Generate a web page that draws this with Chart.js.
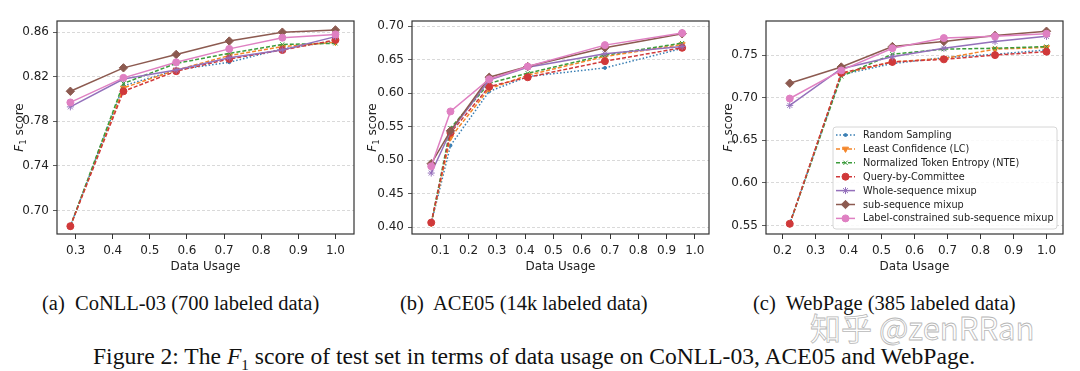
<!DOCTYPE html>
<html>
<head>
<meta charset="utf-8">
<script src="https://cdn.jsdelivr.net/npm/chart.js@4.4.1/dist/chart.umd.min.js"></script>
<style>
  html, body { margin: 0; padding: 0; background: #fff; }
  #fig { position: relative; width: 1080px; height: 371px; overflow: hidden; }
  canvas { position: absolute; top: 0; }
  .sub, .cap { position: absolute; font-family: "Liberation Serif", "DejaVu Serif", serif; color: #111; white-space: nowrap; }
  .sub { top: 291px; font-size: 20.5px; line-height: 24px; }
  .cap { top: 343px; left: 93px; font-size: 23.6px; line-height: 26px; }
  .wm { position: absolute; left: 810px; top: 309px; font-family: "Noto Sans CJK SC", sans-serif; font-size: 31px; line-height: 36px;
        color: rgba(255,255,255,0.6); -webkit-text-stroke: 0.8px #b8b8b8; white-space: nowrap; }
</style>
</head>
<body>
<div id="fig">
  <canvas id="c1" width="360" height="280" style="left:0px"></canvas>
  <canvas id="c2" width="360" height="280" style="left:360px"></canvas>
  <canvas id="c3" width="360" height="280" style="left:720px"></canvas>
  <div class="sub" style="left:42px">(a)&nbsp; CoNLL-03 (700 labeled data)</div>
  <div class="sub" style="left:400px">(b)&nbsp; ACE05 (14k labeled data)</div>
  <div class="sub" style="left:753px">(c)&nbsp; WebPage (385 labeled data)</div>
  <div class="wm">知乎 @zenRRan</div>
  <div class="cap">Figure 2: The <i>F</i><sub style="font-size:15px">1</sub> score of test set in terms of data usage on CoNLL-03, ACE05 and WebPage.</div>
</div>
<script>
// method names, same order in every panel
const methods = ['Random Sampling', 'Least Confidence (LC)', 'Normalized Token Entropy (NTE)',
  'Query-by-Committee', 'Whole-sequence mixup', 'sub-sequence mixup', 'Label-constrained sub-sequence mixup'];

// (a) CoNLL-03
const conllX = [0.286, 0.429, 0.571, 0.714, 0.857, 1.0];
const conllRandom = [0.686, 0.812, 0.826, 0.833, 0.845, 0.852];
const conllLC     = [0.686, 0.810, 0.826, 0.839, 0.847, 0.851];
const conllNTE    = [0.686, 0.814, 0.832, 0.841, 0.849, 0.850];
const conllQBC    = [0.686, 0.807, 0.825, 0.836, 0.844, 0.853];
const conllWhole  = [0.793, 0.818, 0.826, 0.837, 0.844, 0.856];
const conllSub    = [0.807, 0.828, 0.840, 0.852, 0.860, 0.862];
const conllLabel  = [0.797, 0.819, 0.833, 0.845, 0.855, 0.858];
const conllXTicks = [0.3, 0.4, 0.5, 0.6, 0.7, 0.8, 0.9, 1.0];
const conllYTicks = [0.70, 0.74, 0.78, 0.82, 0.86];

// (b) ACE05
const aceX = [0.068, 0.136, 0.273, 0.409, 0.682, 0.955];
const aceRandom = [0.406, 0.522, 0.603, 0.625, 0.638, 0.667];
const aceLC     = [0.406, 0.534, 0.607, 0.627, 0.655, 0.673];
const aceNTE    = [0.406, 0.548, 0.615, 0.630, 0.657, 0.675];
const aceQBC    = [0.407, 0.541, 0.610, 0.624, 0.648, 0.668];
const aceWhole  = [0.481, 0.543, 0.620, 0.639, 0.659, 0.670];
const aceSub    = [0.495, 0.544, 0.624, 0.640, 0.668, 0.689];
const aceLabel  = [0.491, 0.573, 0.621, 0.640, 0.672, 0.690];
const aceXTicks = [0.1, 0.2, 0.3, 0.4, 0.5, 0.6, 0.7, 0.8, 0.9, 1.0];
const aceYTicks = [0.40, 0.45, 0.50, 0.55, 0.60, 0.65, 0.70];

// (c) WebPage
const webX = [0.222, 0.378, 0.533, 0.689, 0.844, 1.0];
const webRandom = [0.552, 0.727, 0.740, 0.747, 0.751, 0.756];
const webLC     = [0.552, 0.728, 0.742, 0.746, 0.757, 0.759];
const webNTE    = [0.552, 0.725, 0.751, 0.757, 0.758, 0.760];
const webQBC    = [0.552, 0.729, 0.742, 0.745, 0.750, 0.754];
const webWhole  = [0.691, 0.734, 0.748, 0.758, 0.766, 0.772];
const webSub    = [0.717, 0.736, 0.760, 0.766, 0.773, 0.778];
const webLabel  = [0.699, 0.732, 0.758, 0.770, 0.772, 0.775];
const webXTicks = [0.2, 0.3, 0.4, 0.5, 0.6, 0.7, 0.8, 0.9, 1.0];
const webYTicks = [0.55, 0.60, 0.65, 0.70, 0.75];

// matplotlib-ish look for each method
const styles = [
  { color: '#3a7fb4', dash: [1.5, 2], point: 'circle', r: 1.5, rot: 0 },
  { color: '#f4862a', dash: [4, 2], point: 'triangle', r: 3.5, rot: 180 },
  { color: '#3c9c3c', dash: [4, 2], point: 'crossRot', r: 3, rot: 0 },
  { color: '#d0393a', dash: [4, 2], point: 'circle', r: 3.5, rot: 0 },
  { color: '#9470bb', dash: [], point: 'star', r: 3.5, rot: 0 },
  { color: '#8c5a50', dash: [], point: 'rectRot', r: 4.2, rot: 0 },
  { color: '#df80c2', dash: [], point: 'circle', r: 3.5, rot: 0 }
];

Chart.defaults.font.family = 'DejaVu Sans';
Chart.defaults.font.size = 12;
Chart.defaults.color = '#222';

// box around the plot + "F1 score" with subscript
const framePlugin = {
  id: 'frame',
  afterDraw(chart, args, opts) {
    const { ctx, chartArea: a } = chart;
    ctx.save();
    ctx.strokeStyle = '#333';
    ctx.lineWidth = 1.2;
    ctx.strokeRect(a.left, a.top, a.right - a.left, a.bottom - a.top);

    ctx.translate(opts.titleX, (a.top + a.bottom) / 2);
    ctx.rotate(-Math.PI / 2);
    ctx.fillStyle = '#222';
    ctx.textBaseline = 'middle';
    const fF = 'italic 12px DejaVu Sans', f1 = '8.5px DejaVu Sans', fS = '12px DejaVu Sans';
    ctx.font = fF; const wF = ctx.measureText('F').width;
    ctx.font = f1; const w1 = ctx.measureText('1').width;
    ctx.font = fS; const wS = ctx.measureText(' score').width;
    let x = -(wF + w1 + wS) / 2;
    ctx.font = fF; ctx.fillText('F', x, 0); x += wF;
    ctx.font = f1; ctx.fillText('1', x, 3.5); x += w1;
    ctx.font = fS; ctx.fillText(' score', x, 0);
    ctx.restore();
  }
};

// legend drawn inside the plot (panel c)
const innerLegend = {
  id: 'innerLegend',
  afterDraw(chart, args, opts) {
    if (!opts.show) return;
    const ctx = chart.ctx;
    const b = opts.box;
    ctx.save();
    ctx.beginPath();
    ctx.roundRect(b.x, b.y, b.w, b.h, 3);
    ctx.fillStyle = 'rgba(255,255,255,0.85)';
    ctx.fill();
    ctx.strokeStyle = '#d6d6d6';
    ctx.lineWidth = 1;
    ctx.stroke();
    chart.data.datasets.forEach((ds, i) => {
      const st = styles[i];
      const y = b.y + 8 + i * 13.9;
      const x0 = b.x + 3, x1 = b.x + 22;
      ctx.strokeStyle = st.color;
      ctx.fillStyle = st.color;
      ctx.lineWidth = 1.5;
      ctx.setLineDash(st.dash);
      ctx.beginPath(); ctx.moveTo(x0, y); ctx.lineTo(x1, y); ctx.stroke();
      ctx.setLineDash([]);
      ctx.lineWidth = 1;
      Chart.helpers.drawPoint(ctx, { pointStyle: st.point, radius: st.r, rotation: st.rot, borderWidth: 1 }, (x0 + x1) / 2, y);
      ctx.fillStyle = '#222';
      ctx.font = '9.7px DejaVu Sans';
      ctx.textBaseline = 'middle';
      ctx.fillText(ds.label, b.x + 30, y + 0.5);
    });
    ctx.restore();
  }
};

function makeDatasets(xs, series) {
  return series.map((ys, i) => {
    const st = styles[i];
    return {
      label: methods[i],
      data: xs.map((x, j) => ({ x: x, y: ys[j] })),
      borderColor: st.color,
      backgroundColor: st.color,
      borderWidth: 1.5,
      borderDash: st.dash,
      pointStyle: st.point,
      pointRadius: st.r,
      pointRotation: st.rot,
      pointBorderWidth: 1,
      tension: 0,
      order: series.length - 1 - i
    };
  });
}

function panel(id, xs, series, xTicks, yTicks, lim, geo, legend) {
  new Chart(document.getElementById(id), {
    type: 'line',
    data: { datasets: makeDatasets(xs, series) },
    plugins: [framePlugin, innerLegend],
    options: {
      responsive: false,
      animation: false,
      layout: { padding: { left: 0, right: geo.right, top: 21, bottom: 0 } },
      plugins: {
        legend: { display: false },
        tooltip: { enabled: false },
        frame: { titleX: geo.titleX },
        innerLegend: legend
      },
      scales: {
        x: {
          type: 'linear',
          min: lim.x[0], max: lim.x[1],
          afterBuildTicks: s => { s.ticks = xTicks.map(v => ({ value: v })); },
          afterFit: s => { s.height = 46; },
          ticks: { autoSkip: false, maxRotation: 0, padding: 5, callback: v => v.toFixed(1), color: '#222' },
          grid: { drawOnChartArea: false, drawTicks: true, tickLength: 5, tickColor: '#333' },
          border: { display: false },
          title: { display: true, text: 'Data Usage', padding: { top: 0, bottom: 6 }, color: '#222' }
        },
        y: {
          min: lim.y[0], max: lim.y[1],
          afterBuildTicks: s => { s.ticks = yTicks.map(v => ({ value: v })); },
          afterFit: s => { s.width = geo.yw; },
          ticks: { autoSkip: false, padding: 4, callback: v => v.toFixed(2), color: '#222' },
          grid: { color: '#cfcfcf', lineWidth: 0.8, drawTicks: true, tickLength: 4, tickColor: '#333' },
          border: { display: false, dash: [3, 2] }
        }
      }
    }
  });
}

panel('c1', conllX, [conllRandom, conllLC, conllNTE, conllQBC, conllWhole, conllSub, conllLabel],
  conllXTicks, conllYTicks, { x: [0.25, 1.05], y: [0.679, 0.870] },
  { yw: 57, right: 6, titleX: 20 }, { show: false });

panel('c2', aceX, [aceRandom, aceLC, aceNTE, aceQBC, aceWhole, aceSub, aceLabel],
  aceXTicks, aceYTicks, { x: [0.0, 1.05], y: [0.390, 0.708] },
  { yw: 52, right: 11, titleX: 13 }, { show: false });

panel('c3', webX, [webRandom, webLC, webNTE, webQBC, webWhole, webSub, webLabel],
  webXTicks, webYTicks, { x: [0.15, 1.05], y: [0.540, 0.790] },
  { yw: 46, right: 17, titleX: 9 }, { show: true, box: { x: 113, y: 127, w: 224, h: 102 } });
</script>
</body>
</html>
